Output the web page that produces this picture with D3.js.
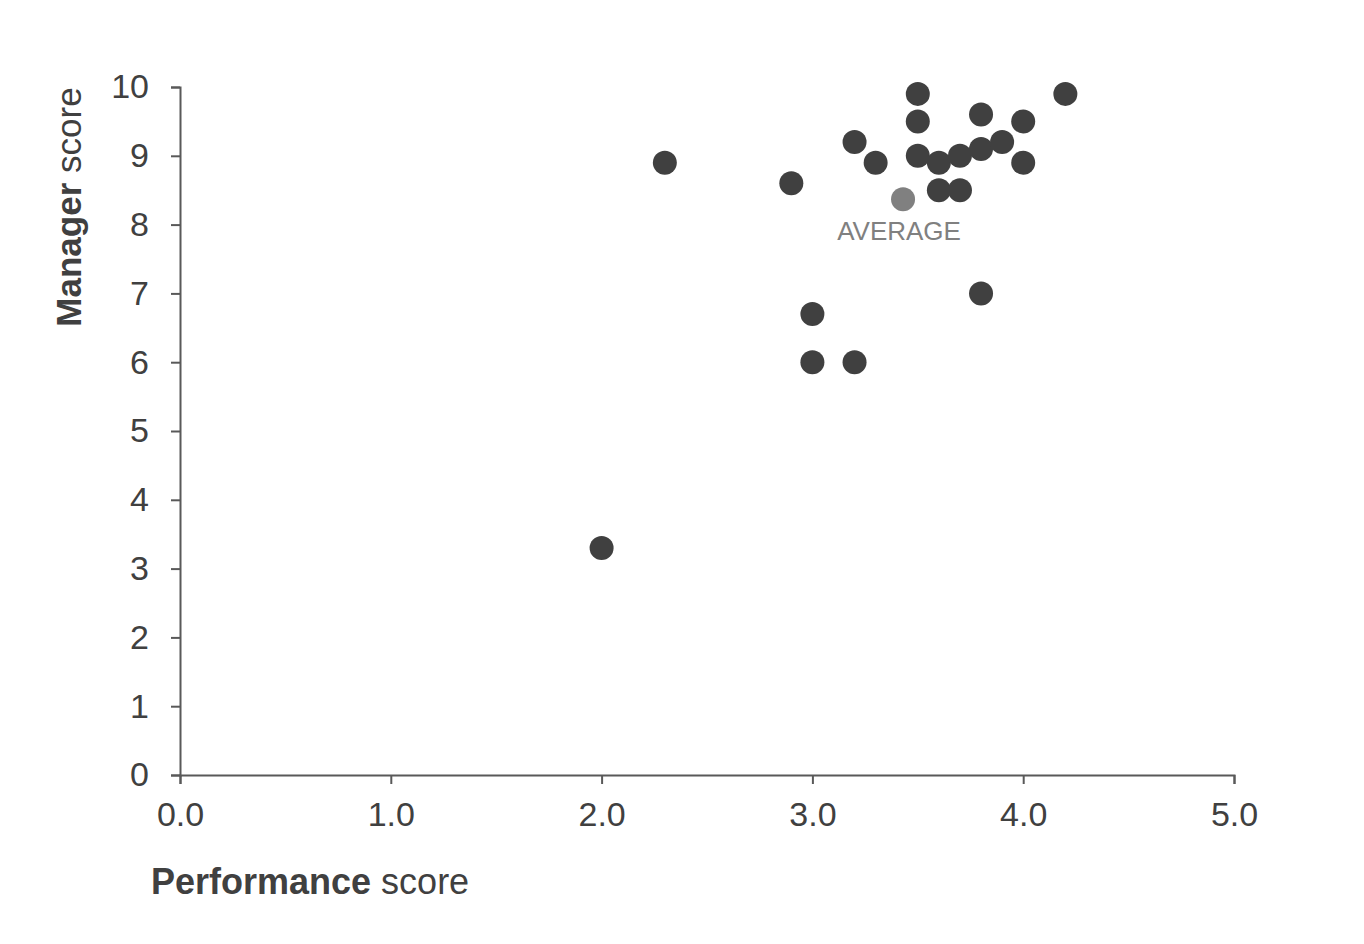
<!DOCTYPE html>
<html><head><meta charset="utf-8">
<script src="https://cdn.jsdelivr.net/npm/d3@7"></script>
<style>body{margin:0;background:#fff}</style>
</head><body>
<svg width="1364" height="944"></svg>
<script>
const perf = [2.0,2.3,2.9,3.0,3.0,3.2,3.2,3.3,3.5,3.5,3.5,3.6,3.6,3.7,3.7,3.8,3.8,3.8,3.9,4.0,4.0,4.2];
const mgr  = [3.3,8.9,8.6,6.7,6.0,6.0,9.2,8.9,9.9,9.5,9.0,8.9,8.5,9.0,8.5,9.6,9.1,7.0,9.2,9.5,8.9,9.9];
const avg = [3.43, 8.37];
const xTicks = [0,1,2,3,4,5];
const yTicks = [0,1,2,3,4,5,6,7,8,9,10];

var svg = d3.select("svg"),
    font = "Liberation Sans, Arial, sans-serif",
    ink = "#404040";

var x = d3.scaleLinear().domain([0,5]).range([180,1234]);
var y = d3.scaleLinear().domain([0,10]).range([775,87]);

var gx = svg.append("g").attr("transform","translate(0,775)")
  .call(d3.axisBottom(x).tickValues(xTicks).tickFormat(d3.format(".1f")).tickSizeOuter(0).tickSize(9).tickPadding(18));
var gy = svg.append("g").attr("transform","translate(180,0)")
  .call(d3.axisLeft(y).tickValues(yTicks).tickSizeOuter(0).tickSize(9).tickPadding(22));
[gx,gy].forEach(g => {
  g.selectAll("path,line").attr("stroke","#595959").attr("stroke-width",2);
  g.selectAll("text").attr("fill",ink).attr("font-family",font).attr("font-size",34);
});

svg.selectAll(".pt").data(perf).enter().append("circle")
  .attr("cx",(d,i)=>x(d)).attr("cy",(d,i)=>y(mgr[i])).attr("r",12).attr("fill",ink);

svg.append("circle").attr("cx",x(avg[0])).attr("cy",y(avg[1])).attr("r",12).attr("fill","#808080");
svg.append("text").attr("x",x(avg[0])-4).attr("y",y(avg[1])+41).attr("text-anchor","middle")
  .attr("font-family",font).attr("font-size",26).attr("fill","#808080").text("AVERAGE");

var xt = svg.append("text").attr("x",151).attr("y",894).attr("font-family",font).attr("font-size",36).attr("fill",ink);
xt.append("tspan").attr("font-weight","bold").text("Performance");
xt.append("tspan").text(" score");

var yt = svg.append("text").attr("transform","translate(81,207) rotate(-90)").attr("text-anchor","middle")
  .attr("font-family",font).attr("font-size",35).attr("fill",ink);
yt.append("tspan").attr("font-weight","bold").text("Manager");
yt.append("tspan").text(" score");
</script>
</body></html>
